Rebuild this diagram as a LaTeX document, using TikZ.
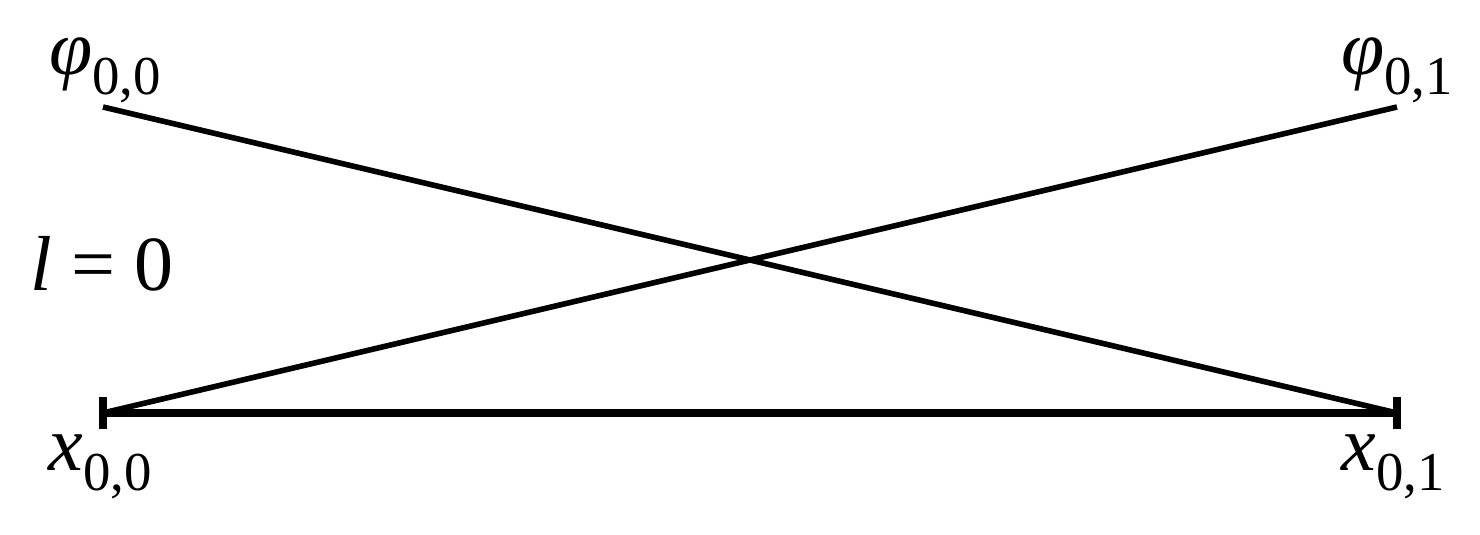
\documentclass[tikz,border=0pt]{standalone}
\usepackage{fontspec}
\setmainfont{Liberation Serif}
\newcommand{\sublbl}[2]{\textit{#1}\raisebox{-0.26em}{\fontsize{13.7pt}{14pt}\selectfont #2}}
\tikzset{
  lbl/.style={anchor=base, inner sep=0pt, font=\fontsize{19.5pt}{22pt}\selectfont},
  diag/.style={line width=1.4pt},
  axis/.style={line width=2.2pt},
  tickmark/.style={line width=2pt}
}
\begin{document}
\begin{tikzpicture}[x=0.25pt,y=-0.25pt]
\useasboundingbox (0,0) rectangle (1480,535);
\coordinate (a) at (103,107);
\coordinate (b) at (1397,107);
\coordinate (c) at (103,413);
\coordinate (d) at (1397,413);
\coordinate (c1) at (103,397);
\coordinate (c2) at (103,429);
\coordinate (d1) at (1397,397);
\coordinate (d2) at (1397,429);
\draw[diag] (a) -- (d);
\draw[diag] (b) -- (c);
\draw[axis] (c) -- (d);
\draw[tickmark] (c1) -- (c2);
\draw[tickmark] (d1) -- (d2);
\node[lbl] (phi0) at (105,74) {\sublbl{φ}{0,0}};
\node[lbl] (phi1) at (1397,74) {\sublbl{φ}{0,1}};
\node[lbl] (lev) at (102,290) {\textit{l}\hspace{0.25em}=\hspace{0.25em}0};
\node[lbl] (x0) at (100,470) {\sublbl{x}{0,0}};
\node[lbl] (x1) at (1393,470) {\sublbl{x}{0,1}};
\end{tikzpicture}
\end{document}
